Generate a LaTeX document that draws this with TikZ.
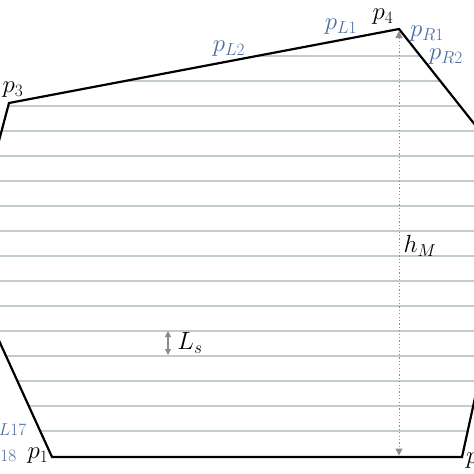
\documentclass[tikz,border=0pt]{standalone}
\usetikzlibrary{arrows.meta}
\definecolor{lblblue}{RGB}{79,110,160}
\definecolor{hline}{RGB}{192,203,210}
\definecolor{arrgray}{RGB}{140,140,140}
\begin{document}
\begin{tikzpicture}[x=1pt,y=-1pt,
  edge/.style={line width=2.2pt, line join=miter},
  hl/.style={hline, line width=1.3pt},
  lbl/.style={inner sep=0pt, font=\fontsize{27}{30}\selectfont},
  blbl/.style={lbl, text=lblblue},
  dim/.style={arrgray, line width=1pt, dash pattern=on 1.2pt off 2.2pt,
    {Triangle[width=7pt,length=7pt]}-{Triangle[width=7pt,length=7pt]}},
  sdim/.style={arrgray, line width=1.2pt,
    {Triangle[width=6pt,length=6pt]}-{Triangle[width=6pt,length=6pt]}}]
\useasboundingbox (0,0) rectangle (474,474);
\clip (0,0) rectangle (474,474);
\fill[white] (0,0) rectangle (474,474);
\coordinate (p1) at (52,457);
\coordinate (p2) at (462,457);
\coordinate (p2a) at (522,184);
\coordinate (p4) at (399,29);
\coordinate (p3) at (9,103);
\coordinate (p5) at (-34.5,267);
\begin{scope}
  \clip (p1) -- (p2) -- (p2a) -- (p4) -- (p3) -- (p5) -- cycle;
  \foreach \k in {0,...,15} \draw[hl] (-50,56+25*\k) -- (560,56+25*\k);
\end{scope}
\draw[edge] (p1) -- (p2) -- (p2a) -- (p4) -- (p3) -- (p5) -- cycle;
% height dimension
\coordinate (ht) at (399,31);
\coordinate (hb) at (399,455.5);
\draw[dim] (ht) -- (hb);
% spacing dimension
\coordinate (lt) at (168,331);
\coordinate (lb) at (168,355);
\draw[sdim] (lt) -- (lb);
% labels
\node[lbl] (lp3) at (13,90) {$p_3$};
\node[lbl] (lp4) at (383,17) {$p_4$};
\node[lbl] (lp1) at (38,456) {$p_1$};
\node[lbl, anchor=west] (lp2) at (466,461) {$p_2$};
\node[blbl] (lpl1) at (341,27) {$p_{L1}$};
\node[blbl] (lpl2) at (229,49) {$p_{L2}$};
\node[blbl] (lpr1) at (427,34) {$p_{R1}$};
\node[blbl] (lpr2) at (446,57) {$p_{R2}$};
\node[blbl, anchor=east] (lpl17) at (27,429) {$p_{L17}$};
\node[blbl, anchor=east] (lpl18) at (17,455) {$p_{L18}$};
\node[lbl] (lhm) at (420,246) {$h_M$};
\node[lbl] (lls) at (190,343) {$L_s$};
\end{tikzpicture}
\end{document}
